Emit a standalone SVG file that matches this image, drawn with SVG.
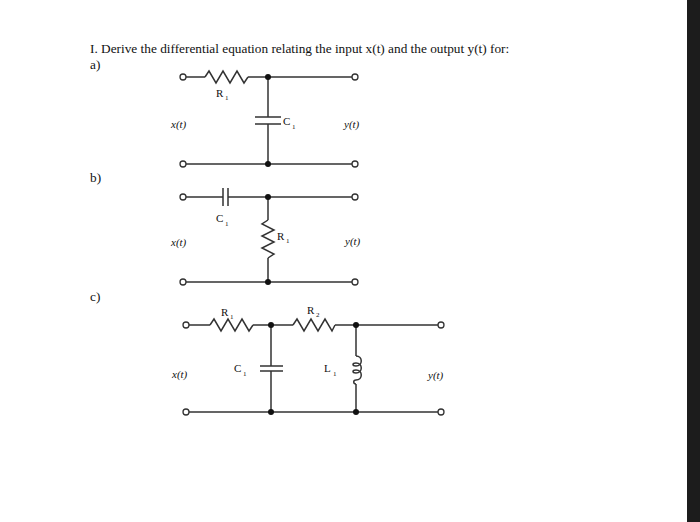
<svg xmlns="http://www.w3.org/2000/svg" width="700" height="522" viewBox="0 0 700 522">
<style>
.w{stroke:#333;stroke-width:1.5;fill:none}
.t{fill:#fff;stroke:#333;stroke-width:1.3}
.d{fill:#111}
text{font-family:"Liberation Serif",serif;fill:#111}
.l{font-size:11px}
.i{font-size:11px;font-style:italic}
.h{font-size:13.3px}
</style>
<rect width="700" height="522" fill="#fff"/>
<rect x="687" y="0" width="13" height="522" fill="#1c1c1c"/>
<text class="h" x="90" y="53">I. Derive the differential equation relating the input x(t) and the output y(t) for:</text>
<text class="h" x="90" y="69">a)</text>
<text class="h" x="90" y="182">b)</text>
<text class="h" x="90" y="301">c)</text>
<g id="connectors">
<path class="w" d="M186 77H205 M248 77H352 M268 77V117 M268 124V164 M186 164H352"/>
<path class="w" d="M255 117H281 M255 124H281"/>
<path class="w" d="M186 197H223 M228 197H352 M268 197V220 M268 258V282 M186 282H352"/>
<path class="w" d="M223 188V206 M228 188V206"/>
<path class="w" d="M189 325H210 M253 325H293 M335 325H438 M271 325V366 M271 371V412 M189 412H438 M356 325V356 M356 384V412"/>
<path class="w" d="M260 366H283 M260 371H283"/>
</g>
<g id="R1a"><path class="w" d="M205 77L209 71L216 83L223 71L230 83L237 71L244 83L248 77"/><text class="l" x="216" y="97">R</text><text x="225" y="100" font-size="7">1</text></g>
<g id="C1a"><text class="l" x="283" y="125">C</text><text x="292" y="129" font-size="7">1</text></g>
<g id="R1b"><path class="w" d="M268 220L262 224L274 230L262 236L274 242L262 248L274 254L268 258"/><text class="l" x="277" y="240">R</text><text x="286" y="243" font-size="7">1</text></g>
<g id="C1b"><text class="l" x="216" y="222">C</text><text x="225" y="226" font-size="7">1</text></g>
<g id="R1c"><path class="w" d="M210 325L214 319L221 331L228 319L235 331L242 319L249 331L253 325"/><text class="l" x="221" y="316">R</text><text x="230" y="319" font-size="7">1</text></g>
<g id="R2c"><path class="w" d="M293 325L297 319L304 331L311 319L318 331L325 319L332 331L335 325"/><text class="l" x="307" y="314">R</text><text x="316" y="317" font-size="7">2</text></g>
<g id="C1c"><text class="l" x="234" y="372">C</text><text x="243" y="376" font-size="7">1</text></g>
<g id="L1c"><path class="w" d="M356 356C363 356 363 366 356 366C352 366 352 363 356 363C363 363 363 373 356 373C352 373 352 370 356 370C363 370 363 380 356 380C353 380 353 384 356 384"/><text class="l" x="324" y="372">L</text><text x="333" y="376" font-size="7">1</text></g>
<g id="nodes-dots">
<circle class="d" cx="268" cy="77" r="3"/><circle class="d" cx="268" cy="164" r="3"/>
<circle class="d" cx="268" cy="197" r="3"/><circle class="d" cx="268" cy="282" r="3"/>
<circle class="d" cx="271" cy="325" r="3"/><circle class="d" cx="356" cy="325" r="3"/>
<circle class="d" cx="271" cy="412" r="3"/><circle class="d" cx="356" cy="412" r="3"/>
</g>
<g id="terminals">
<circle class="t" cx="183" cy="77" r="3"/><circle class="t" cx="355" cy="77" r="3"/>
<circle class="t" cx="183" cy="164" r="3"/><circle class="t" cx="355" cy="164" r="3"/>
<circle class="t" cx="183" cy="197" r="3"/><circle class="t" cx="355" cy="197" r="3"/>
<circle class="t" cx="183" cy="282" r="3"/><circle class="t" cx="355" cy="282" r="3"/>
<circle class="t" cx="186" cy="325" r="3"/><circle class="t" cx="441" cy="325" r="3"/>
<circle class="t" cx="186" cy="412" r="3"/><circle class="t" cx="441" cy="412" r="3"/>
</g>
<g id="labels">
<text class="i" x="171" y="128">x(t)</text><text class="i" x="344" y="128">y(t)</text>
<text class="i" x="171" y="246">x(t)</text><text class="i" x="345" y="245">y(t)</text>
<text class="i" x="172" y="378">x(t)</text><text class="i" x="428" y="379">y(t)</text>
</g>
</svg>
